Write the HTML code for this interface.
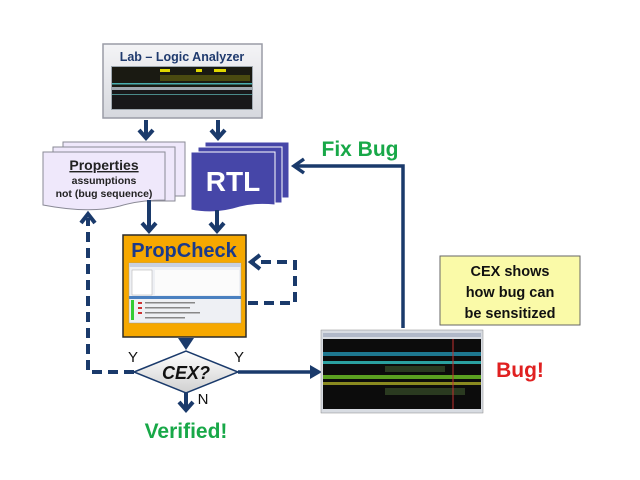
<!DOCTYPE html>
<html><head><meta charset="utf-8"><style>
html,body{margin:0;padding:0;background:#fff;}
svg{display:block;font-family:"Liberation Sans",Arial,sans-serif;}
</style></head><body>
<svg width="640" height="480" viewBox="0 0 640 480" xmlns="http://www.w3.org/2000/svg">
<defs>
<linearGradient id="lab" x1="0" y1="0" x2="0" y2="1"><stop offset="0" stop-color="#f4f4f6"/><stop offset="1" stop-color="#d6d8de"/></linearGradient>
<linearGradient id="dia" x1="0" y1="0" x2="0" y2="1"><stop offset="0" stop-color="#fff"/><stop offset="1" stop-color="#d0d0d0"/></linearGradient>
</defs>
<rect x="103" y="44" width="159" height="74" fill="url(#lab)" stroke="#9a9ca6" stroke-width="1.5"/>
<text x="182" y="61" font-size="12.5" font-weight="bold" fill="#1f3a6e" text-anchor="middle">Lab – Logic Analyzer</text>
<rect x="111" y="66" width="142" height="44" fill="#9fa8b0"/>
<rect x="112" y="67" width="140" height="20" fill="#1a1a12"/>
<rect x="160" y="69" width="10" height="3" fill="#e0d800"/><rect x="196" y="69" width="6" height="3" fill="#e0d800"/><rect x="214" y="69" width="12" height="3" fill="#e0d800"/>
<rect x="160" y="75" width="90" height="6" fill="#4a4a10"/>
<rect x="112" y="83" width="140" height="1.5" fill="#4ab0b0"/>
<rect x="112" y="90" width="140" height="19" fill="#18181a"/>
<rect x="112" y="94" width="140" height="1" fill="#4a8a8a"/>
<g stroke="#1a3a6b" stroke-width="4" fill="none">
<line x1="146" y1="120" x2="146" y2="136"/><polyline points="139,130 146,138 153,130"/>
<line x1="218" y1="120" x2="218" y2="136"/><polyline points="211,130 218,138 225,130"/>
</g>
<g fill="#efe8fb" stroke="#8a8a96" stroke-width="1">
<rect x="63" y="142" width="122" height="54"/>
<rect x="53" y="147" width="122" height="54"/>
<path d="M43,152 H165 V200 Q140,200 120,206 Q90,214 43,205 Z"/>
</g>
<text x="104" y="170" font-size="14" font-weight="bold" fill="#222" text-anchor="middle" text-decoration="underline">Properties</text>
<text x="104" y="184" font-size="10.5" font-weight="bold" fill="#222" text-anchor="middle">assumptions</text>
<text x="104" y="197" font-size="10.5" font-weight="bold" fill="#222" text-anchor="middle">not (bug sequence)</text>
<g fill="#4646a8" stroke="#fff" stroke-width="1">
<rect x="205" y="142" width="84" height="56"/>
<rect x="198" y="147" width="84" height="56"/>
<path d="M191,152 H275 V205 Q255,203 240,207 Q215,215 191,210 Z"/>
</g>
<text x="233" y="191" font-size="28" font-weight="bold" fill="#fff" text-anchor="middle">RTL</text>
<g stroke="#1a3a6b" stroke-width="4" fill="none">
<line x1="149" y1="200" x2="149" y2="229"/><polyline points="142,223 149,231 156,223"/>
<line x1="217" y1="210" x2="217" y2="229"/><polyline points="210,223 217,231 224,223"/>
</g>
<rect x="123" y="235" width="123" height="102" fill="#f6a800" stroke="#2a2a2a" stroke-width="1.5"/>
<text x="184" y="257" font-size="20" font-weight="bold" fill="#1a3a8a" text-anchor="middle">PropCheck</text>
<rect x="129" y="263" width="112" height="60" fill="#eef0f4" stroke="#999" stroke-width="0.5"/>
<rect x="129" y="263" width="112" height="4" fill="#c8d0e0"/>
<rect x="132" y="270" width="20" height="25" fill="#fff" stroke="#aaa" stroke-width="0.5"/>
<rect x="155" y="270" width="84" height="25" fill="#fbfbfb"/>
<rect x="129" y="296" width="112" height="3" fill="#4a80c0"/>
<rect x="131" y="300" width="3" height="20" fill="#3c3"/>
<g fill="#c33"><rect x="138" y="302" width="4" height="2"/><rect x="138" y="307" width="4" height="2"/><rect x="138" y="312" width="4" height="2"/></g>
<g fill="#888"><rect x="145" y="302" width="50" height="1.5"/><rect x="145" y="307" width="45" height="1.5"/><rect x="145" y="312" width="55" height="1.5"/><rect x="145" y="317" width="40" height="1.5"/></g>
<g stroke="#1a3a6b" stroke-width="4" fill="none">
<polyline points="248,303 295,303 295,262 252,262" stroke-dasharray="10,6"/>
<polyline points="260,255 251,262 260,269"/>
</g>
<polygon points="178,338 194,338 186,350" fill="#1a3a6b"/>
<polygon points="134,372 186,351 238,372 186,393" fill="url(#dia)" stroke="#1a3a6b" stroke-width="1.5"/>
<text x="186" y="379" font-size="18" font-weight="bold" font-style="italic" fill="#111" text-anchor="middle">CEX?</text>
<text x="133" y="362" font-size="15" fill="#111" text-anchor="middle">Y</text>
<text x="239" y="362" font-size="15" fill="#111" text-anchor="middle">Y</text>
<text x="203" y="404" font-size="15" fill="#111" text-anchor="middle">N</text>
<g stroke="#1a3a6b" stroke-width="4" fill="none">
<line x1="186" y1="393" x2="186" y2="410"/><polyline points="179,402 186,410 193,402"/>
</g>
<text x="186" y="438" font-size="21" font-weight="bold" fill="#18a848" text-anchor="middle">Verified!</text>
<g stroke="#1a3a6b" stroke-width="4" fill="none">
<polyline points="134,372 88,372 88,218" stroke-dasharray="10,6"/>
<polyline points="81,223 88,214 95,223"/>
</g>
<line x1="238" y1="372" x2="312" y2="372" stroke="#1a3a6b" stroke-width="3.5"/>
<polygon points="310,365 322,372 310,379" fill="#1a3a6b"/>
<rect x="321" y="330" width="162" height="83" fill="#d8dce2" stroke="#888" stroke-width="0.5"/>
<rect x="323" y="339" width="158" height="70" fill="#0c0c0c"/>
<rect x="323" y="352" width="158" height="4" fill="#1e7890"/>
<rect x="323" y="361" width="158" height="3" fill="#2aa0a0"/>
<rect x="323" y="375" width="158" height="4" fill="#5aa020"/>
<rect x="323" y="382" width="158" height="3" fill="#8a8a20"/>
<rect x="385" y="366" width="60" height="6" fill="#2a3a20"/>
<rect x="385" y="388" width="80" height="7" fill="#2a3a20"/>
<line x1="453" y1="339" x2="453" y2="409" stroke="#c03030" stroke-width="1"/>
<rect x="323" y="333" width="158" height="4" fill="#b0b8c8"/>
<polyline points="403,328 403,166 296,166" stroke="#1a3a6b" stroke-width="3.5" fill="none"/>
<polyline points="304,159 294,166 304,173" stroke="#1a3a6b" stroke-width="3.5" fill="none"/>
<text x="360" y="156" font-size="21" font-weight="bold" fill="#18a848" text-anchor="middle">Fix Bug</text>
<text x="520" y="377" font-size="21" font-weight="bold" fill="#e02020" text-anchor="middle">Bug!</text>
<rect x="440" y="256" width="140" height="69" fill="#fafaa8" stroke="#666" stroke-width="1"/>
<text x="510" y="276" font-size="14.5" font-weight="bold" fill="#111" text-anchor="middle">CEX shows</text>
<text x="510" y="297" font-size="14.5" font-weight="bold" fill="#111" text-anchor="middle">how bug can</text>
<text x="510" y="318" font-size="14.5" font-weight="bold" fill="#111" text-anchor="middle">be sensitized</text>
</svg>
</body></html>
